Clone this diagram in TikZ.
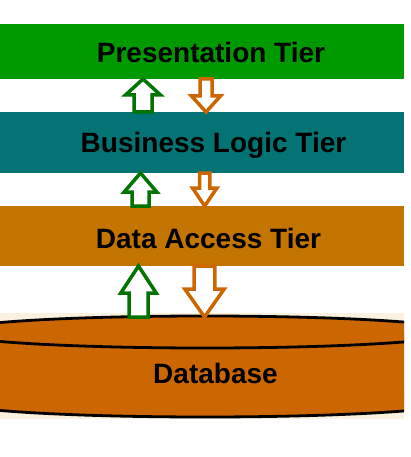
\documentclass[tikz,border=0pt]{standalone}
\usepackage{fontspec}
\setmainfont{Liberation Sans}
\usetikzlibrary{calc}

\definecolor{presgreen}{HTML}{009900}
\definecolor{logicteal}{HTML}{037473}
\definecolor{accessorange}{HTML}{C47500}
\definecolor{dborange}{HTML}{CC6600}
\definecolor{upgreen}{HTML}{007300}
\definecolor{downorange}{HTML}{CC6600}
\definecolor{dbshade}{HTML}{FBF1DF}

% block arrow between two tiers, pointing up / down
% #1 colour, #2 x offset, #3 upper anchor, #4 lower anchor, #5 head half width, #6 body half width, #7 head length
\newcommand{\tierup}[7]{%
  \draw[blockarr, draw=#1] let \p1 = ([xshift=#2]#3), \p2 = ([xshift=#2]#4) in
    (\p1) -- (\x1+#5pt,\y1-#7pt) -- (\x1+#6pt,\y1-#7pt) -- (\x1+#6pt,\y2)
    -- (\x1-#6pt,\y2) -- (\x1-#6pt,\y1-#7pt) -- (\x1-#5pt,\y1-#7pt) -- cycle;
}
\newcommand{\tierdown}[7]{%
  \draw[blockarr, draw=#1] let \p1 = ([xshift=#2]#3), \p2 = ([xshift=#2]#4) in
    (\p2) -- (\x1+#5pt,\y2+#7pt) -- (\x1+#6pt,\y2+#7pt) -- (\x1+#6pt,\y1)
    -- (\x1-#6pt,\y1) -- (\x1-#6pt,\y2+#7pt) -- (\x1-#5pt,\y2+#7pt) -- cycle;
}

\tikzset{
  tier/.style={rectangle, inner sep=0pt, outer sep=0pt, minimum width=404pt},
  tiertext/.style={inner sep=0pt, anchor=base, text=black, font=\bfseries\fontsize{28}{32}\selectfont},
  blockarr/.style={line width=3.5pt, fill=white, line join=miter, miter limit=4}
}

\begin{document}
\begin{tikzpicture}[x=1pt, y=-1pt]
  \useasboundingbox (0,0) rectangle (410,457);

  % the three tiers
  \foreach \n/\t/\c/\y/\h/\tx/\ty in {pres/Presentation Tier/presgreen/51.5/55/211/63,
                                       logic/Business Logic Tier/logicteal/142.5/61/213.5/153,
                                       access/Data Access Tier/accessorange/236/60/208.5/248}
  {
    \node[tier, fill=\c, minimum height=\h pt] (\n) at (202,\y) {};
    \node[tiertext] (\n-text) at (\tx,\ty) {\t};
  }

  % database
  \fill[dbshade] (0,313) rectangle (404,419);
  \begin{scope}
    \clip (0,0) rectangle (404,457);
    \fill[dborange] (-49,332) rectangle (459,401);
    \fill[dborange] (205,401) ellipse [x radius=254pt, y radius=16pt];
    \draw[line width=2.8pt] (-49,332) -- (-49,401)
      arc[start angle=180, end angle=360, x radius=254pt, y radius=16pt] -- (459,332);
    \draw[line width=2.8pt, fill=dborange] (205,332) ellipse [x radius=254pt, y radius=16pt];
  \end{scope}
  \coordinate (dbtop) at (202,317);
  \node[tiertext] (db) at (215.5,383) {Database};

  % requests down, results up
  \tierup{upgreen}{-59}{pres.south}{logic.north}{17.5}{9}{16}
  \tierdown{downorange}{4}{pres.south}{logic.north}{14.5}{6}{16}
  \tierup{upgreen}{-61.5}{logic.south}{access.north}{16.3}{8.5}{19}
  \tierdown{downorange}{2.7}{logic.south}{access.north}{12.2}{5.2}{18}
  \tierup{upgreen}{-63.5}{access.south}{dbtop}{17.7}{9.5}{27}
  \tierdown{downorange}{2.5}{access.south}{dbtop}{19.7}{10.3}{28}
\end{tikzpicture}
\end{document}
